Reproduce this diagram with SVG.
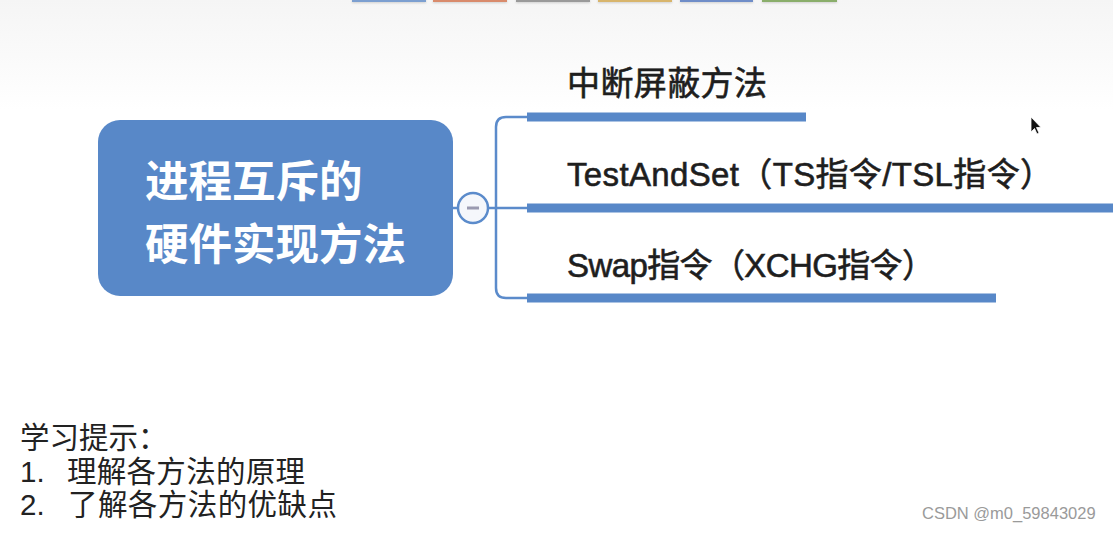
<svg xmlns="http://www.w3.org/2000/svg" width="1113" height="533" viewBox="0 0 1113 533">
  <defs>
    <linearGradient id="bg" x1="0" y1="0" x2="0" y2="1">
      <stop offset="0" stop-color="#f5f5f5"/>
      <stop offset="1" stop-color="#ffffff"/>
    </linearGradient>
    <filter id="sh" x="-10%" y="-100%" width="120%" height="400%">
      <feGaussianBlur stdDeviation="1.2"/>
    </filter>
    <style>
      .cjk { font-family: "Liberation Sans", "Noto Sans CJK SC", sans-serif; }
      .main { fill: #ffffff; font-size: 43.5px; font-weight: bold; }
      .sub { fill: #1e1e1e; font-size: 33px; stroke: #1e1e1e; stroke-width: 0.6; }
      .tip { fill: #222222; font-size: 29.5px; }
      .bar { fill: #5888c8; }
      .conn { fill: none; stroke: #5b8bcb; stroke-width: 2.5; }
      .wm { fill: #9a9a9a; font-size: 16.5px; font-family: "Liberation Sans", sans-serif; }
    </style>
  </defs>

  <rect x="0" y="0" width="1113" height="533" fill="#ffffff"/>
  <rect x="0" y="0" width="1113" height="110" fill="url(#bg)"/>

  <!-- toolbar remnants at top -->
  <g id="toolbar">
    <rect x="352" y="0" width="74" height="3" fill="#999" opacity="0.4" filter="url(#sh)"/>
    <rect x="433" y="0" width="74" height="3" fill="#999" opacity="0.4" filter="url(#sh)"/>
    <rect x="516" y="0" width="74" height="3" fill="#999" opacity="0.4" filter="url(#sh)"/>
    <rect x="598" y="0" width="74" height="3" fill="#999" opacity="0.4" filter="url(#sh)"/>
    <rect x="680" y="0" width="73" height="3" fill="#999" opacity="0.4" filter="url(#sh)"/>
    <rect x="762" y="0" width="75" height="3" fill="#999" opacity="0.4" filter="url(#sh)"/>
    <rect x="352" y="0" width="74" height="2" fill="#7c9fd0"/>
    <rect x="433" y="0" width="74" height="2" fill="#d98b6c"/>
    <rect x="516" y="0" width="74" height="2" fill="#9a9a9a"/>
    <rect x="598" y="0" width="74" height="2" fill="#d8b56c"/>
    <rect x="680" y="0" width="73" height="2" fill="#6f8dc8"/>
    <rect x="762" y="0" width="75" height="2" fill="#8aae6b"/>
  </g>

  <g id="connectors">
    <line class="conn" x1="452" y1="208" x2="458" y2="208"/>
    <line class="conn" x1="488" y1="208" x2="527" y2="208"/>
    <path class="conn" d="M527 117 H506 Q496 117 496 127 V288 Q496 298 506 298 H527"/>
  </g>

  <g id="root">
    <rect x="98" y="120" width="355" height="176" rx="22" fill="#5888c8"/>
    <text class="cjk main" x="145" y="197">进程互斥的</text>
    <text class="cjk main" x="145" y="260">硬件实现方法</text>
  </g>

  <g id="collapse">
    <circle cx="473" cy="208" r="15" fill="#f5f7fb" stroke="#5b8bcb" stroke-width="2.5"/>
    <rect x="467" y="206.5" width="12" height="3" fill="#9a9ab0"/>
  </g>

  <g id="node1">
    <rect class="bar" x="527" y="112.5" width="279" height="9"/>
    <text class="cjk sub" x="567" y="95" textLength="200" lengthAdjust="spacing">中断屏蔽方法</text>
  </g>

  <g id="node2">
    <rect class="bar" x="527" y="203.5" width="586" height="9"/>
    <text class="cjk sub" x="567" y="186" textLength="486" lengthAdjust="spacing">TestAndSet（TS指令/TSL指令）</text>
  </g>

  <g id="node3">
    <rect class="bar" x="527" y="293.5" width="469" height="9"/>
    <text class="cjk sub" x="567" y="277" textLength="368" lengthAdjust="spacing">Swap指令（XCHG指令）</text>
  </g>

  <g id="tips">
    <text class="cjk tip" x="20" y="448">学习提示：</text>
    <text class="cjk tip" x="20" y="482">1.</text>
    <text class="cjk tip" x="67" y="482" textLength="238" lengthAdjust="spacing">理解各方法的原理</text>
    <text class="cjk tip" x="20" y="515">2.</text>
    <text class="cjk tip" x="68" y="515" textLength="269" lengthAdjust="spacing">了解各方法的优缺点</text>
  </g>

  <!-- mouse pointer -->
  <path d="M1031 117 L1031 132 L1034.5 128.5 L1037 134 L1039 133 L1036.5 127.5 L1041 127.5 Z" fill="#111" stroke="#fff" stroke-width="0.8"/>

  <text class="wm" x="922" y="519">CSDN @m0_59843029</text>
</svg>
